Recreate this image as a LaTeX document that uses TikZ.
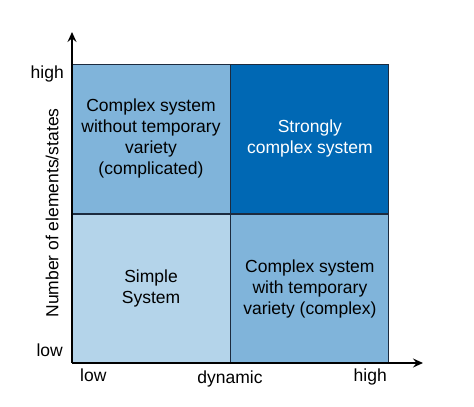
\documentclass[tikz,border=0pt]{standalone}
\usepackage{fontspec}
\setmainfont{Liberation Sans}
\usepackage{tikz}
\usetikzlibrary{positioning,arrows.meta}

\definecolor{quadlight}{HTML}{B4D4EA}
\definecolor{quadmid}{HTML}{80B4DA}
\definecolor{quaddark}{HTML}{0068B4}
\definecolor{quadline}{HTML}{1C2B3F}

\begin{document}
\begin{tikzpicture}[>={Stealth[length=10pt,width=9pt,inset=3.5pt]}, node distance=0pt, every node/.style={font=\fontsize{17.5}{21}\selectfont}]
      \tikzstyle{quadbox}=[draw=quadline, line width=0.9pt, minimum width=158pt, minimum height=149pt, align=center, inner sep=0pt]
      \tikzstyle{axislabel}=[inner sep=0pt]
      \useasboundingbox (-72pt,-44pt) rectangle (402pt,363pt);
      \node[quadbox, fill=quadlight] (simple) at (79pt,74.5pt) {Simple\\System};
      \node[quadbox, fill=quadmid, right=of simple] (temporal) {Complex system\\with temporary\\variety (complex)};
      \node[quadbox, fill=quadmid, above=of simple] (complicated) {Complex system\\without temporary\\variety\\(complicated)};
      \node[quadbox, fill=quaddark, text=white, right=of complicated] (strong) {Strongly\\complex system};

      % axes
      \coordinate (origin) at (0,0);
      \coordinate (ytip) at (0,331pt);
      \coordinate (xtip) at (351pt,0);
      \draw[->, line width=1.3pt] (origin) -- (ytip);
      \draw[->, line width=1.3pt] (origin) -- (xtip);

      \node[axislabel, anchor=base east] (yhigh) at (-8pt,284pt) {high};
      \node[axislabel, anchor=base east] (ylow) at (-9pt,7pt) {low};
      \node[axislabel, rotate=90] (ytitle) at (-20pt,150pt) {Number of elements/states};
      \node[axislabel, anchor=base west] (xlow) at (8pt,-18pt) {low};
      \node[axislabel, anchor=base] (xtitle) at (158pt,-20pt) {dynamic};
      \node[axislabel, anchor=base east] (xhigh) at (315pt,-18pt) {high};
    \end{tikzpicture}
\end{document}
